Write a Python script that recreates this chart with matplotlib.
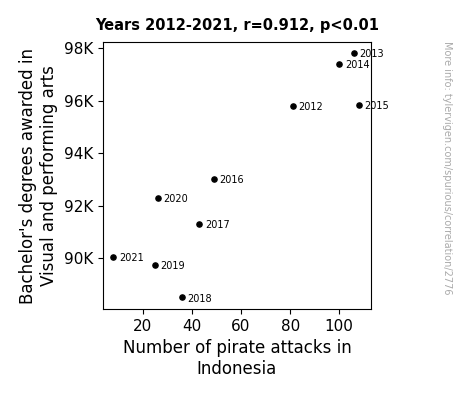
import matplotlib
matplotlib.use("Agg")
import matplotlib.pyplot as plt

# data
years = ["2012", "2013", "2014", "2015", "2016", "2017", "2018", "2019", "2020", "2021"]
pirate_attacks = [81, 106, 100, 108, 49, 43, 36, 25, 26, 8]
degrees = [95800, 97800, 97400, 95850, 93000, 91300, 88500, 89750, 92300, 90050]

fig = plt.figure(figsize=(4.74, 4.12), dpi=100)
ax = fig.add_axes([0.217, 0.25, 0.566, 0.648])

ax.scatter(pirate_attacks, degrees, color="black", s=14, zorder=3)
for x, y, label in zip(pirate_attacks, degrees, years):
    ax.annotate(label, (x, y), xytext=(4, -3), textcoords="offset points", fontsize=7)

ax.set_xlim(3.7, 113)
ax.set_ylim(88060, 98230)
ax.set_xticks([20, 40, 60, 80, 100])
ax.set_yticks([90000, 92000, 94000, 96000, 98000])
ax.set_yticklabels(["90K", "92K", "94K", "96K", "98K"])
ax.tick_params(labelsize=11)

ax.set_title("Years 2012-2021, r=0.912, p<0.01", fontsize=10.5, fontweight="bold", pad=9)
ax.set_xlabel("Number of pirate attacks in\nIndonesia", fontsize=12)
ax.set_ylabel("Bachelor's degrees awarded in\nVisual and performing arts", fontsize=12)

fig.text(0.943, 0.9, "More info: tylervigen.com/spurious/correlation/2776",
         rotation=270, fontsize=7, color="#aaaaaa", va="top", ha="center")

plt.savefig("out.png", dpi=100)
plt.close()
